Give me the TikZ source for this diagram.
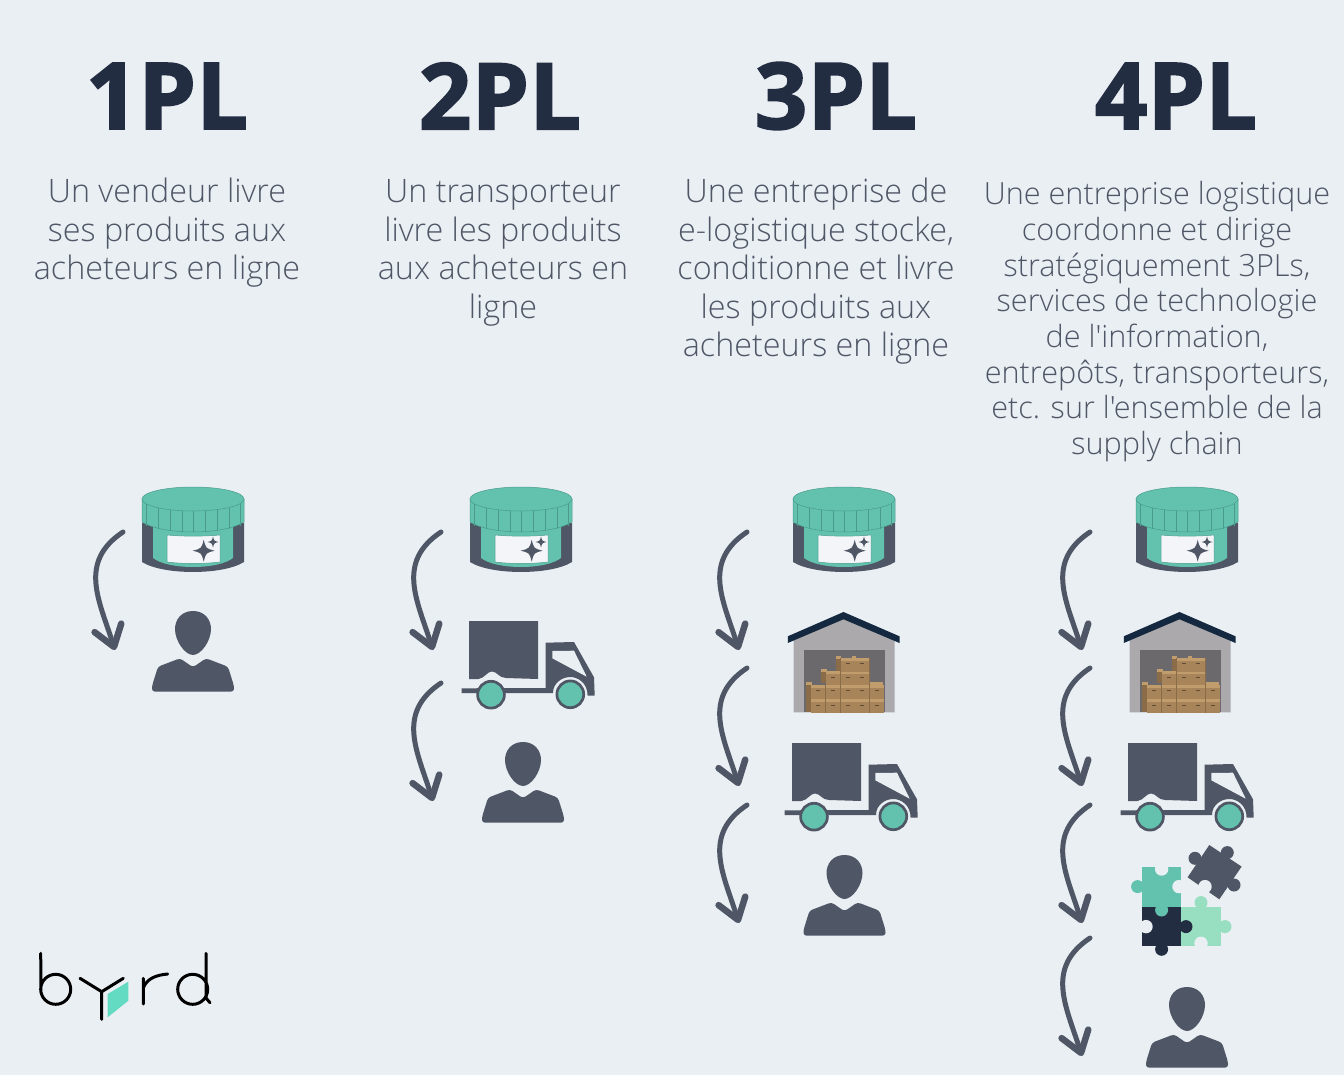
\documentclass[tikz,border=0pt]{standalone}
\usepackage{fontspec}
\usepackage{xcolor}
\setmainfont{Open Sans}
\newfontfamily\lightfont{Open Sans Light}
\newfontfamily\heavyfont{Open Sans}[BoldFeatures={FakeBold=2}]
\usetikzlibrary{arrows.meta, calc}

\definecolor{pagebg}{HTML}{EAEFF4}
\definecolor{slate}{HTML}{4F5665}
\definecolor{inktitle}{HTML}{232D42}
\definecolor{teal}{HTML}{62C2AE}
\definecolor{tealdark}{HTML}{4A9B8C}
\definecolor{mint}{HTML}{98DFC1}
\definecolor{navy}{HTML}{14293F}
\definecolor{wallgray}{HTML}{ABA9AB}
\definecolor{doorgray}{HTML}{6B696B}
\definecolor{cratebody}{HTML}{A8845A}
\definecolor{cratelid}{HTML}{C19D6E}
\definecolor{crateback}{HTML}{8B6C49}
\definecolor{logomint}{HTML}{62DBC2}

\newcommand{\sparkle}[3]{\fill[slate] (#1,#2-#3) .. controls (#1+.2*#3,#2-.2*#3) .. (#1+#3,#2)
    .. controls (#1+.2*#3,#2+.2*#3) .. (#1,#2+#3)
    .. controls (#1-.2*#3,#2+.2*#3) .. (#1-#3,#2)
    .. controls (#1-.2*#3,#2-.2*#3) .. cycle;}

\tikzset{
    heading/.style={font=\heavyfont\bfseries\fontsize{92}{92}\selectfont, text=inktitle, anchor=center},
    blurb/.style={font=\lightfont\fontsize{32.3}{38.5}\selectfont, text=slate, align=center, anchor=north,
        execute at begin node=\strut},
    blurbsmall/.style={font=\lightfont\fontsize{30.6}{35.7}\selectfont, text=slate, align=center, anchor=north,
        execute at begin node=\strut},
    flowarrow/.style={draw=slate, line width=5pt, line cap=round,
        -{Straight Barb[length=20pt, width=28pt, line width=6.5pt, round]}},
    jar/.pic={
        \fill[slate] (-51,36) -- (-51,75) .. controls (-30,88.3) and (30,88.3) .. (51,75) -- (51,36) -- cycle;
        \fill[teal] (-40,36) -- (-40,71) .. controls (-25,83) and (25,83) .. (40,71) -- (40,36) -- cycle;
        \fill[white!40!pagebg, draw=tealdark, line width=.5pt] (-26,48) .. controls (-10,49.5) and (10,49.5) .. (27,48)
            -- (27,75) .. controls (10,77) and (-10,77) .. (-26,75) -- cycle;
        \sparkle{10.7}{63.7}{11}
        \sparkle{20}{55}{5.5}
        \fill[teal, draw=tealdark, line width=.5pt] (-51,12) -- (-51,35) .. controls (-30,48.3) and (30,48.3) .. (51,35)
            -- (51,12) -- cycle;
        \foreach \x in {-47,-35,-23,-11,0,12,24,36,47}
            \draw[tealdark, line width=.6pt] (\x,{12+12*sqrt(1-(\x/51)^2)}) -- (\x,{35+10*sqrt(1-(\x/51)^2)});
        \fill[teal, draw=tealdark, line width=.5pt] (0,12) ellipse [x radius=51, y radius=12];
    },
    buyer/.pic={
        \fill[slate] (0,0) .. controls (12,0) and (18,9) .. (18,18) .. controls (18,30) and (8,44) .. (0,44)
            .. controls (-8,44) and (-18,30) .. (-18,18) .. controls (-18,9) and (-12,0) .. (0,0) -- cycle;
        \fill[slate, rounded corners=3pt] (0,56.3) -- (13,47.3) -- (35,55.7) -- (41,75) -- (41,80.7)
            -- (-41,80.7) -- (-41,75) -- (-35,55.7) -- (-13,47.3) -- cycle;
    },
    truck/.pic={
        \fill[slate] (0,0) -- (69,0) -- (69,58) -- (37,57) .. controls (30,57) and (28,50.5) .. (23,50.5)
            .. controls (18,50.5) and (16,57) .. (9.5,58) -- (0,58) -- cycle;
        \fill[slate] (-7.3,67.3) -- (76.7,67) -- (76.7,21.7) -- (105,21) -- (125,56.3) -- (125.7,74.7) -- (118.6,74.7)
            .. controls (118.6,62) and (109,56) .. (101.3,56) .. controls (93,56) and (84,62) .. (84,72)
            -- (-7.3,72) -- cycle;
        \fill[pagebg] (83.3,30) -- (105,29.7) -- (117.7,55.7) -- (83.3,37.3) -- cycle;
        \fill[teal, draw=slate, line width=2.7pt] (22,73.7) circle [radius=13.4];
        \fill[teal, draw=slate, line width=2.7pt] (101.3,73.3) circle [radius=13.4];
    },
    crate/.pic={
        \fill[crateback] (-.4,0) rectangle (14.4,14.4);
        \fill[cratebody] (0,0) rectangle (14,14);
        \fill[cratelid] (0,0) rectangle (14,3.2);
        \fill[crateback!70!black] (5,5.5) rectangle (9,6.2);
    },
    depot/.pic={
        \fill[wallgray] (-50,24) -- (0,6) -- (51,24) -- (51,100.3) -- (-50,100.3) -- cycle;
        \fill[doorgray] (-40,38.3) rectangle (41.5,100.3);
        % boxes at the back
        \fill[crateback] (-37.3,70.3) rectangle (-32,100.3);
        \fill[cratelid] (-37.3,70.3) rectangle (-32,73);
        \fill[crateback] (-22.3,57.3) rectangle (-17,71.3);
        \fill[cratelid] (-22.3,57.3) rectangle (-17,60);
        \fill[crateback] (-7.3,44) rectangle (-2.5,59.7);
        \fill[cratelid] (-7.3,44) rectangle (-2.5,46.7);
        \fill[cratelid] (8.4,44) rectangle (12,46.3);
        \fill[cratelid] (24.7,70) rectangle (39,72.5);
        \foreach \cx/\cy in {-32.3/87,-17.6/87,-3/87,11.7/87,26.4/87,
            -32.3/72.7,-17.6/72.7,-3/72.7,11.7/72.7,26.4/72.7,
            -17.6/59,-3/59,11.7/59,
            -3/45.6,11.7/45.6}
            \pic at (\cx,\cy) {crate};
        \fill[navy] (-55.7,24.3) -- (0,0) -- (56,24.3) -- (56,31) -- (0,7.3) -- (-55.7,31) -- cycle;
    },
    puzzle/.pic={
        % green piece
        \fill[mint] (39,39.3) rectangle (78.3,78.6);
        \fill[mint] (58.7,35.3) circle [radius=6.5];
        \fill[mint] (82.7,59.3) circle [radius=6.5];
        \fill[pagebg] (58.7,76) circle [radius=6.7];
        % dark piece
        \fill[inktitle] (0,39.3) rectangle (39,78.6);
        \fill[inktitle] (43.7,59.3) circle [radius=6.5];
        \fill[inktitle] (19.3,82) circle [radius=6.5];
        \fill[pagebg] (3.7,59.3) circle [radius=6.7];
        % teal piece
        \fill[teal] (0,0) rectangle (39,39.3);
        \fill[teal] (-4.7,19.3) circle [radius=6.5];
        \fill[teal] (19.3,42.7) circle [radius=6.5];
        \fill[pagebg] (19.3,1.7) circle [radius=6.7];
        \fill[pagebg] (36.7,19.3) circle [radius=6.7];
        % gray piece
        \fill[slate] (67,-22.3) -- (99.3,-.7) -- (77,32) -- (45.3,10) -- cycle;
        \fill[slate] (52.7,-9) circle [radius=6.5];
        \fill[slate] (85,-14.7) circle [radius=6.5];
        \fill[slate] (91.7,17.7) circle [radius=6.5];
        \fill[pagebg] (62.7,19.3) circle [radius=6.7];
    },
}

\begin{document}
\begin{tikzpicture}[x=1pt, y=-1pt]
    \fill[pagebg] (0,0) rectangle (1344,1075);
    \useasboundingbox (0,0) rectangle (1344,1075);

    \node[heading] (title1) at (167,96) {1PL};
    \node[heading] (title2) at (500,96) {2PL};
    \node[heading] (title3) at (836,96) {3PL};
    \node[heading] (title4) at (1176,96) {4PL};

    \node[blurb] (text1) at (167,174.5) {Un vendeur livre\\ses produits aux\\acheteurs en ligne};
    \node[blurb] (text2) at (503,176) {Un transporteur\\livre les produits\\aux acheteurs en\\ligne};
    \node[blurb] (text3) at (816,174.5) {Une entreprise de\\e-logistique stocke,\\conditionne et livre\\les produits aux\\acheteurs en ligne};
    \node[blurbsmall] (text4) at (1157,178) {Une entreprise logistique\\coordonne et dirige\\stratégiquement 3PLs,\\services de technologie\\de l'information,\\entrepôts, transporteurs,\\etc. sur l'ensemble de la\\supply chain};

    \pic (jar1) at (193,487) {jar};
    \pic (jar2) at (521,487) {jar};
    \pic (jar3) at (844,487) {jar};
    \pic (jar4) at (1187,487) {jar};

    \pic (depot3) at (843.5,612) {depot};
    \pic (depot4) at (1179.5,612) {depot};

    \pic (truck2) at (469,621) {truck};
    \pic (truck3) at (792,743) {truck};
    \pic (truck4) at (1128,743) {truck};

    \pic (puzzle4) at (1142.3,867.3) {puzzle};

    \pic (buyer1) at (193,611) {buyer};
    \pic (buyer2) at (523,742) {buyer};
    \pic (buyer3) at (844.5,855) {buyer};
    \pic (buyer4) at (1187,987) {buyer};

    % curved arrows, one per step
    \foreach \id/\sx/\sy in {a/123/532, b/441/532, c/441/683, d/747/532, e/747/668, f/747/805,
        g/1090/532, h/1090/668, i/1090/805, j/1090/938} {
        \coordinate (from\id) at (\sx,\sy);
        \coordinate (to\id) at (\sx-8,\sy+118);
        \draw[flowarrow] (from\id) .. controls +(-45,30) and +(-16,-50) .. (to\id);
    }

    % logo
    \draw[black, line width=3pt, line cap=round] (40.7,953.3) -- (41,990) (55.7,989.3) circle [radius=15];
    \draw[black, line width=3pt, line cap=round, line join=round] (80,978.3) -- (101.7,991.7) -- (123.3,978.3)
        (101.7,991.7) -- (101.7,1019.3);
    \fill[logomint] (107.7,994) -- (128.3,981.7) -- (128.3,1000.7) -- (107.7,1017.3) -- cycle;
    \draw[black, line width=3pt, line cap=round] (143.3,978.3) -- (143.3,1004)
        (143.3,988) .. controls (147,978) and (157,975) .. (167.7,974);
    \draw[black, line width=3pt, line cap=round] (192.7,989.3) circle [radius=15]
        (206,953.3) -- (206,998) -- (210,1002.7);
\end{tikzpicture}
\end{document}
